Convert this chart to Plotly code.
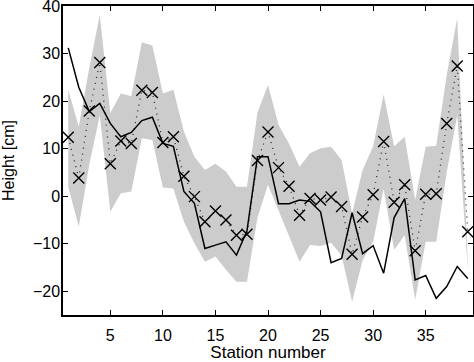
import plotly.graph_objects as go

stations = list(range(1, 40))

measured = [12.4, 3.8, 17.9, 28.1, 6.8, 11.6, 11.1, 22.3, 21.8, 11.3,
            12.5, 4.2, -0.1, -5.4, -3.1, -5.0, -8.2, -8.0, 7.5, 13.5,
            6.0, 2.1, -4.0, -0.5, -0.8, -0.2, -2.2, -12.2, -4.4, 0.3,
            11.5, -1.3, 2.4, -11.5, 0.4, 0.5, 15.3, 27.4, -7.5]

band_upper = [22.4, 14.6, 27.0, 38.1, 17.5, 21.6, 21.0, 32.4, 31.7, 21.6,
              22.4, 13.6, 8.3, 5.5, 6.8, 5.2, 2.0, 2.0, 17.6, 23.4,
              15.0, 11.0, 6.2, 9.0, 10.1, 10.4, 7.6, -3.6, 5.5, 10.5,
              21.4, 10.5, 12.5, -0.8, 10.4, 10.6, 25.5, 37.4, -13.8]

band_lower = [2.0, -6.4, 6.6, 17.0, -3.3, 0.6, 1.0, 12.2, 11.8, 1.8,
              1.6, -5.4, -9.9, -13.8, -12.7, -15.5, -18.0, -18.0, -4.5, 2.4,
              -3.0, -8.4, -13.8, -10.3, -10.5, -9.8, -12.5, -22.2, -13.5, -9.6,
              1.5, -11.3, -8.2, -21.8, -9.6, -9.6, 5.0, 17.0, -15.2]

model = [31.2, 22.9, 17.8, 19.5, 15.3, 12.5, 13.4, 15.9, 16.6, 11.1,
         10.5, 1.0, -1.5, -11.0, -10.3, -9.6, -12.4, -7.3, 8.3, 8.3,
         -1.6, -1.6, -0.8, -1.1, -3.3, -14.0, -13.1, -3.5, -12.1, -10.4,
         -16.2, -4.5, -0.5, -17.6, -16.7, -21.5, -19.0, -14.8, -17.3]

xticks = [5, 10, 15, 20, 25, 30, 35]
yticks = [-20, -10, 0, 10, 20, 30, 40]

FONT = "Liberation Sans, Arial, sans-serif"

fig = go.Figure()

fig.add_trace(go.Scatter(
    x=stations + stations[::-1],
    y=band_upper + band_lower[::-1],
    fill="toself", fillcolor="rgb(204,204,204)",
    line=dict(width=0), mode="lines", hoverinfo="skip", showlegend=False))

fig.add_trace(go.Scatter(
    x=stations, y=measured, mode="lines+markers",
    line=dict(color="rgb(40,40,40)", width=1.3, dash="1px,5px"),
    marker=dict(symbol="x-thin", size=11, line=dict(color="black", width=1.4)),
    showlegend=False))

fig.add_trace(go.Scatter(
    x=stations, y=model, mode="lines",
    line=dict(color="black", width=1.5), showlegend=False))

axis_common = dict(
    showline=True, linecolor="black", linewidth=1.5, mirror="allticks",
    ticks="inside", ticklen=5, tickcolor="black", tickwidth=1.2,
    showgrid=False, zeroline=False, automargin=False,
    ticklabeloverflow="allow",
    tickfont=dict(family=FONT, size=16, color="black"),
)

fig.update_xaxes(range=[0.5, 39.5], tickvals=xticks, ticklabelstandoff=5,
                 title=dict(text="Station number", standoff=10,
                            font=dict(family=FONT, size=17, color="black")),
                 **axis_common)
fig.update_yaxes(range=[-25, 40], tickvals=yticks, ticklabelstandoff=-2,
                 title=dict(text="Height [cm]", standoff=14,
                            font=dict(family=FONT, size=16, color="black")),
                 **axis_common)

fig.update_layout(
    width=474, height=362,
    margin=dict(l=63, r=1, t=6, b=47),
    paper_bgcolor="white", plot_bgcolor="white",
    showlegend=False,
)

fig.write_html("out.html", config={"displayModeBar": False},
               post_script="document.body.style.margin='0';document.body.style.overflow='hidden';")
